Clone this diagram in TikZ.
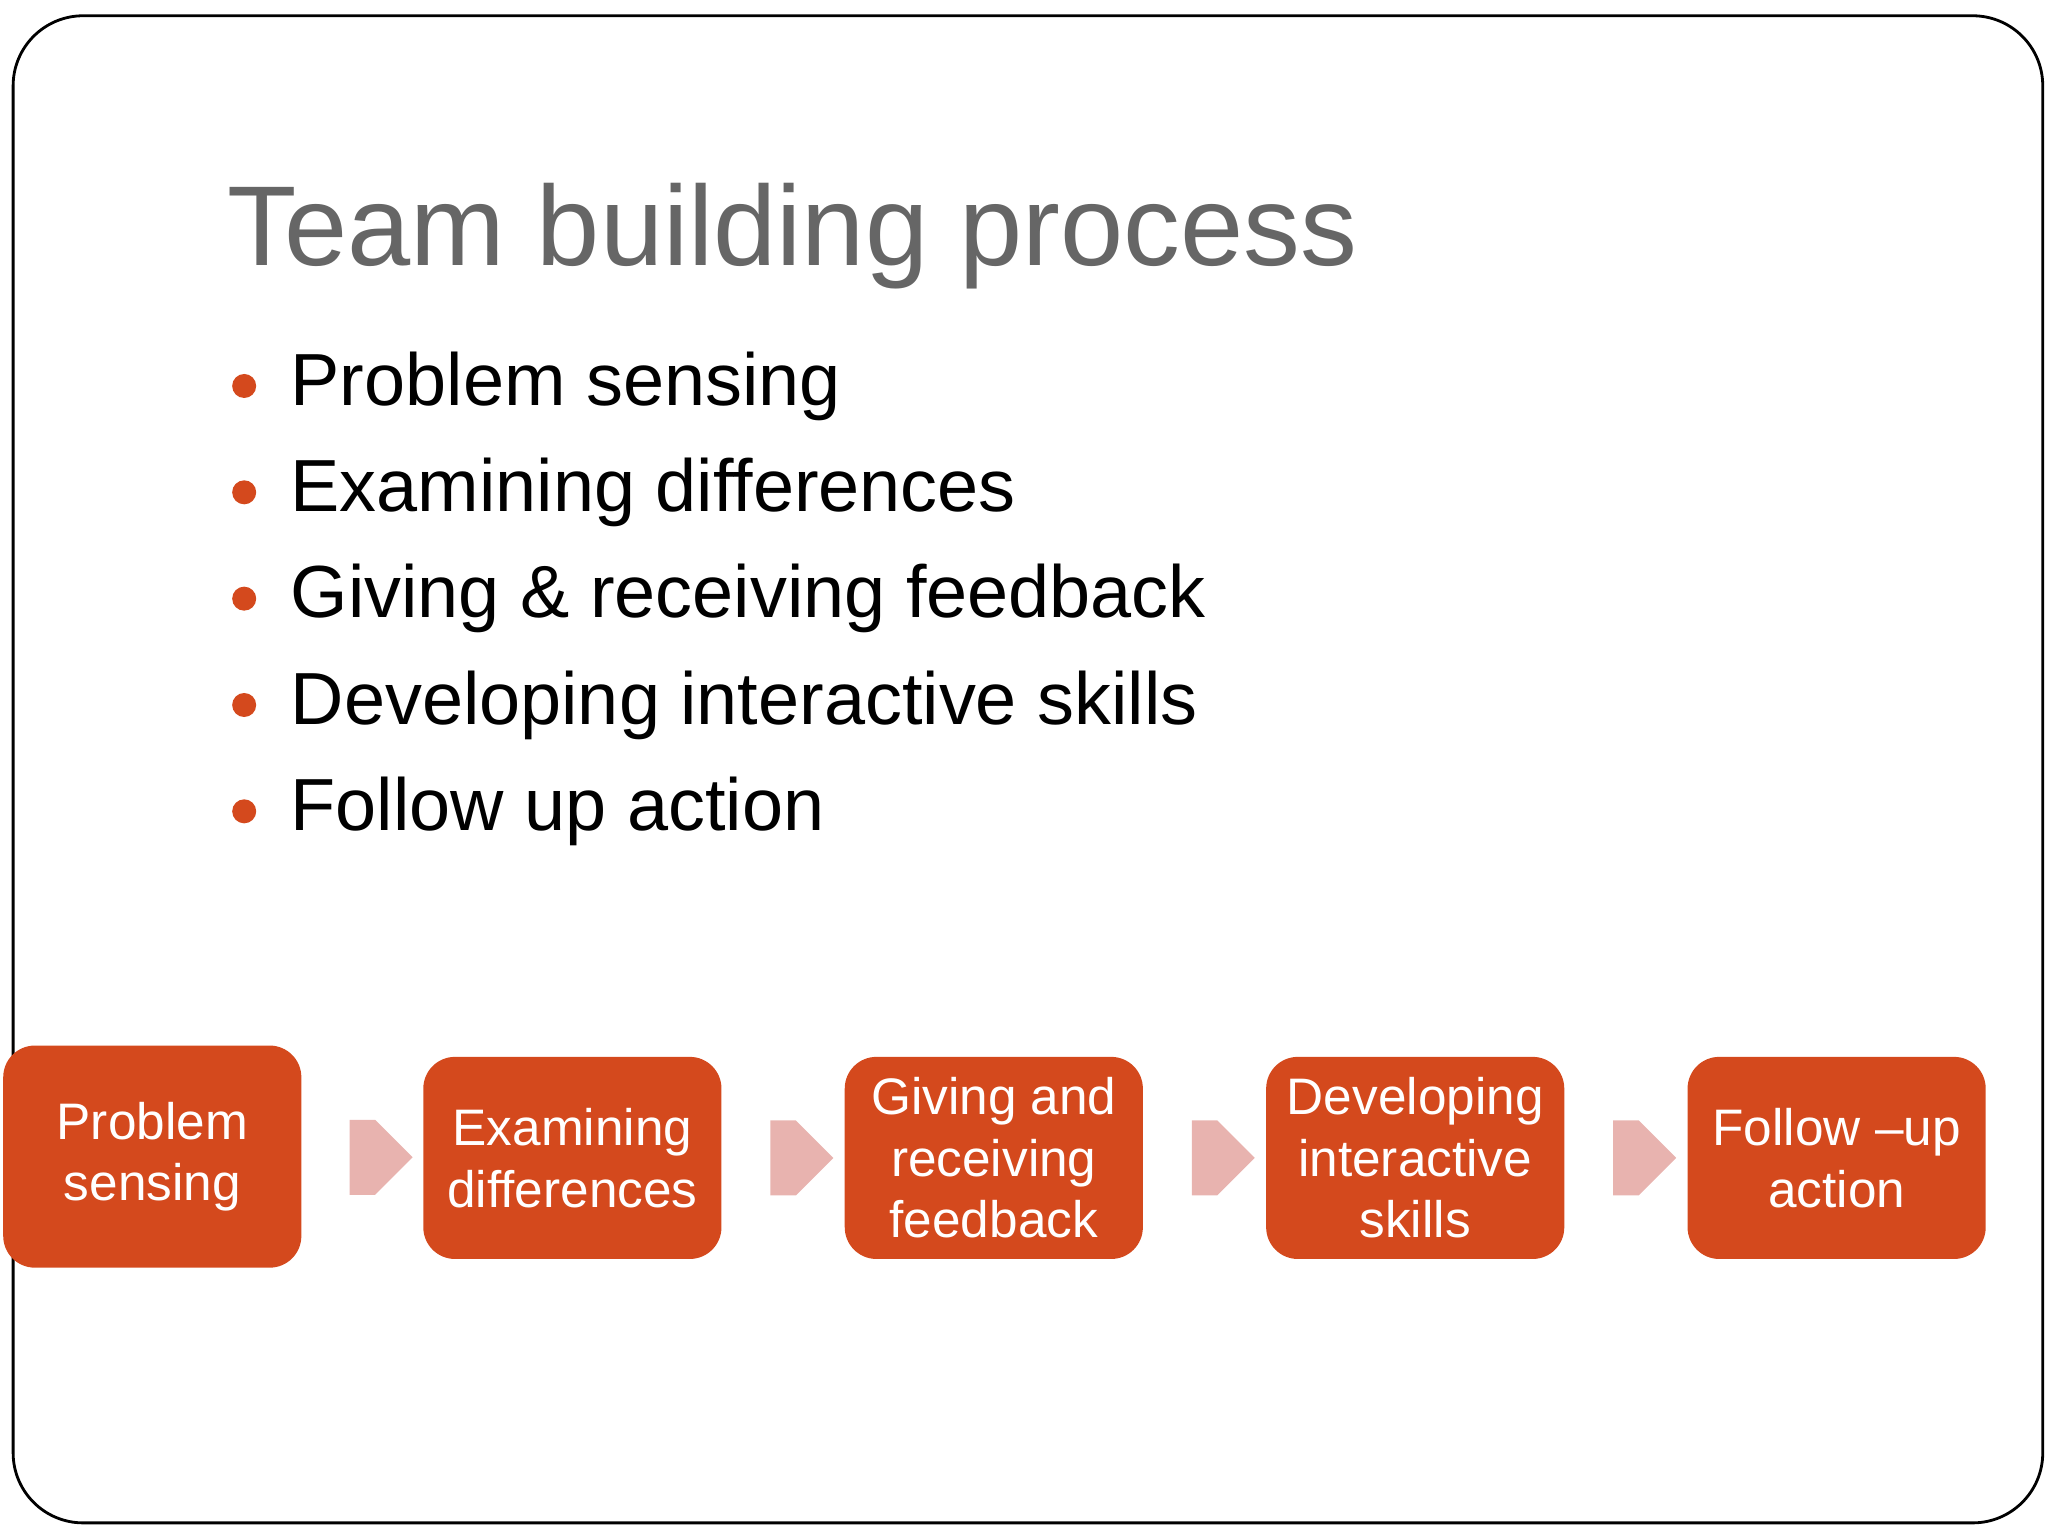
\documentclass[tikz,border=0pt]{standalone}
\usepackage{fontspec}
\setmainfont{Liberation Sans}
\usetikzlibrary{positioning,calc,shapes.arrows}
\definecolor{boxorange}{HTML}{D4491D}
\definecolor{arrowpink}{HTML}{E8B3AF}
\definecolor{titlegray}{HTML}{666666}
\tikzset{
  stage/.style={fill=boxorange, text=white, rounded corners=9pt, align=center,
    minimum width=2.98cm, minimum height=2.02cm, inner sep=1pt,
    font=\fontsize{14.6}{17.5}\selectfont},
  flow/.style={single arrow, fill=arrowpink, minimum width=0.75cm,
    single arrow head extend=0pt, minimum height=0.63cm, inner sep=0pt},
  item/.style={anchor=west, font=\fontsize{21}{24}\selectfont},
  dot/.style={circle, fill=boxorange, inner sep=0pt, minimum size=0.24cm}
}
\begin{document}
\begin{tikzpicture}[x=0.01313cm, y=-0.01313cm]
  \useasboundingbox (0,0) rectangle (1560,1170);
  \draw[line width=0.8pt, rounded corners=0.7cm] (10,12) rectangle (1556,1160);
  \node[anchor=west, text=titlegray, font=\fontsize{32.3}{36}\selectfont] (title) at (164,180) {Team building process};
  % bullet list
  \foreach \t [count=\i] in {Problem sensing, Examining differences, Giving \& receiving feedback, Developing interactive skills, Follow up action} {
    \node[dot] (d\i) at (186,{294+81*(\i-1)}) {};
    \node[item] (b\i) at (212,{294+81*(\i-1)}) {\t};
  }
  % flow boxes
  \node[stage, minimum height=2.22cm] (s1) at (116,881) {Problem\\sensing};
  \node[stage] (s2) at (436,882) {Examining\\differences};
  \node[stage] (s3) at (757,882) {Giving and\\receiving\\feedback};
  \node[stage] (s4) at (1078,882) {Developing\\interactive\\skills};
  \node[stage] (s5) at (1399,882) {Follow --up\\action};
  \foreach \a/\b in {s1/s2, s2/s3, s3/s4, s4/s5}
    \node[flow] (\a\b) at ($(\a.east)!0.5!(\b.west)$) {};
\end{tikzpicture}
\end{document}
